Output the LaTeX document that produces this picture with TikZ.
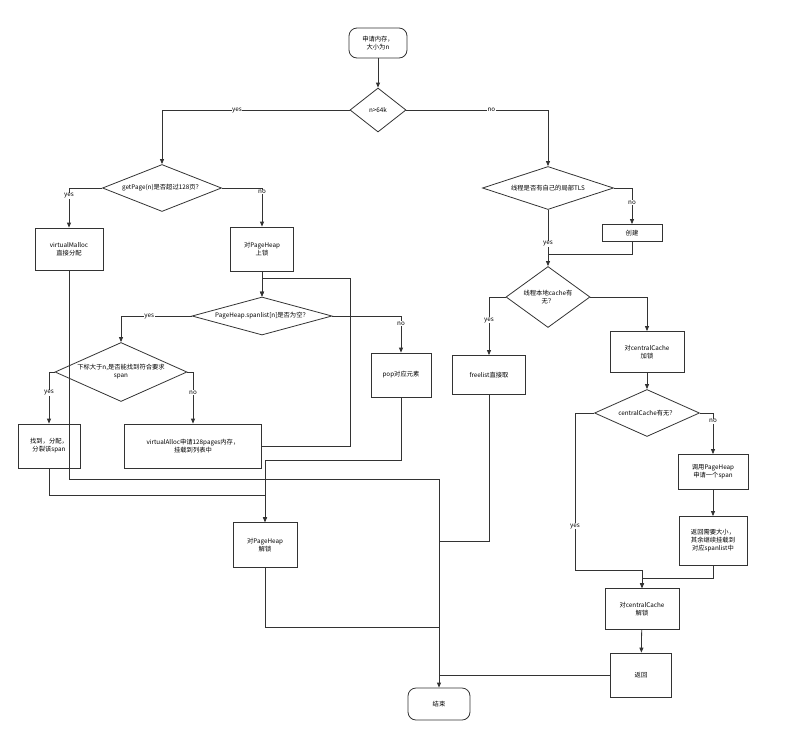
\documentclass[tikz,border=0pt]{standalone}
\usepackage{fontspec}
\setmainfont{Noto Sans CJK SC}
\usetikzlibrary{shapes.geometric,arrows.meta}
\begin{document}
\begin{tikzpicture}[x=1pt,y=-1pt,
  every node/.style={font=\fontsize{6.3}{8}\selectfont},
  box/.style={draw=black!80,thick,minimum width=#1,align=center,inner sep=1pt},
  dia/.style={draw=black!80,thick,diamond,inner sep=0pt},
  arr/.style={draw=black!80,thick,-{Triangle[length=5pt,width=4pt]}},
  ln/.style={draw=black!80,thick},
  lab/.style={fill=white,inner sep=0.5pt}]
\useasboundingbox (0,0) rectangle (803,737);
\node[box=58,rounded corners=8pt,minimum height=30] (start) at (378,43) {申请内存，\\大小为n};
\node[dia,minimum width=56,minimum height=44,label=center:{n>64k}] (d1) at (378,110) {};
\node[dia,minimum width=119,minimum height=47,label=center:{getPage(n)是否超过128页？}] (d2) at (162,188) {};
\node[box=68,minimum height=42] (vm) at (69,249) {virtualMalloc\\直接分配};
\node[box=63,minimum height=44] (lock) at (262,249) {对PageHeap\\上锁};
\node[dia,minimum width=140,minimum height=38,label=center:{PageHeap.spanlist[n]是否为空？}] (d3) at (262,316) {};
\node[dia,minimum width=132,minimum height=59,label={[align=center]center:{下标大于n,是否能找到符合要求\\span}}] (d4) at (121,372) {};
\node[box=62,minimum height=44] (found) at (49,446) {找到，分配，\\分裂该span};
\node[box=137,minimum height=44] (va) at (193,446) {virtualAlloc申请128pages内存，\\挂载到列表中};
\node[box=60,minimum height=44] (pop) at (401,375) {pop对应元素};
\node[box=64,minimum height=45] (unlock) at (265,545) {对PageHeap\\解锁};
\node[box=62,rounded corners=8pt,minimum height=32] (end) at (439,704) {结束};
\node[dia,minimum width=131,minimum height=43,label=center:{线程是否有自己的局部TLS}] (d5) at (548,188) {};
\node[box=60,minimum height=17] (create) at (632,233) {创建};
\node[dia,minimum width=84,minimum height=61,label={[align=center]center:{线程本地cache有\\无？}}] (d6) at (548,297) {};
\node[box=73,minimum height=39] (free) at (489,375) {freelist直接取};
\node[box=74,minimum height=41] (lockC) at (647,352) {对centralCache\\加锁};
\node[dia,minimum width=105,minimum height=47,label=center:{centralCache有无？}] (d7) at (647,413) {};
\node[box=70,minimum height=35] (call) at (713,472) {调用PageHeap\\申请一个span};
\node[box=68,minimum height=49] (ret) at (713,541) {返回需要大小，\\其余继续挂载到\\对应spanlist中};
\node[box=74,minimum height=41] (unlockC) at (642,609) {对centralCache\\解锁};
\node[box=61,minimum height=44] (return) at (641,675) {返回};

\draw[arr] (start) -- (d1);
\draw[arr] (d1.west) -| node[lab,pos=0.3]{yes} (d2.north);
\draw[arr] (d1.east) -| node[lab,pos=0.3]{no} (d5.north);
\draw[arr] (d2.west) -| node[lab,pos=0.6]{yes} (vm.north);
\draw[arr] (d2.east) -| node[lab,pos=0.55]{no} (lock.north);
\draw[arr] (lock) -- (d3);
\draw[arr] (d3.west) -| node[lab,pos=0.3]{yes} (d4.north);
\draw[arr] (d3.east) -| node[lab,pos=0.6]{no} (pop.north);
\draw[arr] (d4.west) -| node[lab,pos=0.7]{yes} (found.north);
\draw[arr] (d4.east) -| node[lab,pos=0.7]{no} (va.north);
\draw[arr] (va.east) -- (350,446) -- (350,278) -- (262,278) -- (d3.north);
\draw[arr] (found.south) -- (49,495) -- (265,495) -- (unlock.north);
\draw[arr] (pop.south) -- (401,460) -- (265,460) -- (unlock.north);
\draw[arr] (vm.south) -- (69,479) -- (439,479) -- (end.north);
\draw[ln] (unlock.south) |- (439,627);
\draw[ln] (free.south) |- (439,541);
\draw[ln] (return.west) -- (439,675);
\draw[arr] (d5.east) -| node[lab,pos=0.7]{no} (create.north);
\draw[arr] (d5.south) -- node[lab,pos=0.6]{yes} (d6.north);
\draw[ln] (create.south) |- (548,254);
\draw[arr] (d6.west) -| node[lab,pos=0.7]{yes} (free.north);
\draw[arr] (d6.east) -| (lockC.north);
\draw[arr] (lockC) -- (d7);
\draw[arr] (d7.east) -| node[lab,pos=0.6]{no} (call.north);
\draw[arr] (call) -- (ret);
\draw[arr] (ret.south) -- (713,578) -- (642,578) -- (unlockC.north);
\draw[arr] (d7.west) -- (575,413) -- node[lab,pos=0.72]{yes} (575,570) -- (642,570) -- (unlockC.north);
\draw[arr] (unlockC) -- (return);
\end{tikzpicture}
\end{document}
